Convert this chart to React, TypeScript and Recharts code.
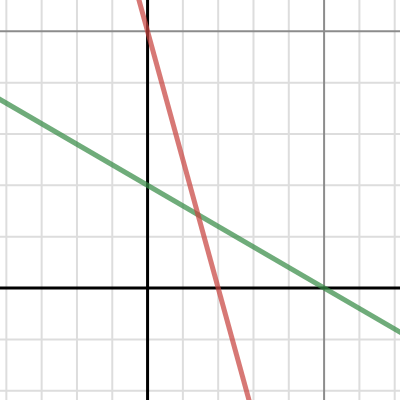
import { LineChart, Line, XAxis, YAxis, ReferenceLine } from "recharts";

// grid positions (units)
const xTicks = [-4, -3, -2, -1, 1, 2, 3, 4, 6, 7];
const yTicks = [-2, -1, 1, 2, 3, 4];
const xMajor = [5];
const yMajor = [5];

// each line by two points
const redLine = [
  { x: -1, y: 7.5 },
  { x: 4, y: -5 },
];
const greenLine = [
  { x: -5, y: 4 },
  { x: 8, y: -1.2 },
];

const X_DOMAIN: [number, number] = [-4.18, 7.15];
const Y_DOMAIN: [number, number] = [-2.18, 5.61];

export default function App() {
  return (
    <div style={{ position: "fixed", left: 0, top: 0, width: 400, height: 400, background: "#fff" }}>
      <LineChart width={400} height={400} margin={{ top: 0, right: 0, bottom: 0, left: 0 }}>
        <XAxis type="number" dataKey="x" domain={X_DOMAIN} allowDataOverflow hide />
        <YAxis type="number" dataKey="y" domain={Y_DOMAIN} allowDataOverflow hide />
        {xTicks.map((v) => (
          <ReferenceLine key={"vx" + v} x={v} stroke="#dddddd" strokeWidth={2} />
        ))}
        {yTicks.map((v) => (
          <ReferenceLine key={"hy" + v} y={v} stroke="#dddddd" strokeWidth={2} />
        ))}
        {xMajor.map((v) => (
          <ReferenceLine key={"mx" + v} x={v} stroke="#8c8c8c" strokeWidth={2} />
        ))}
        {yMajor.map((v) => (
          <ReferenceLine key={"my" + v} y={v} stroke="#8c8c8c" strokeWidth={2} />
        ))}
        <ReferenceLine x={0} stroke="#000" strokeWidth={3} />
        <ReferenceLine y={0} stroke="#000" strokeWidth={3} />
        <Line
          data={greenLine}
          dataKey="y"
          type="linear"
          stroke="#388c46"
          strokeOpacity={0.72}
          strokeWidth={5}
          dot={false}
          isAnimationActive={false}
        />
        <Line
          data={redLine}
          dataKey="y"
          type="linear"
          stroke="#c74440"
          strokeOpacity={0.72}
          strokeWidth={5}
          dot={false}
          isAnimationActive={false}
        />
      </LineChart>
    </div>
  );
}
